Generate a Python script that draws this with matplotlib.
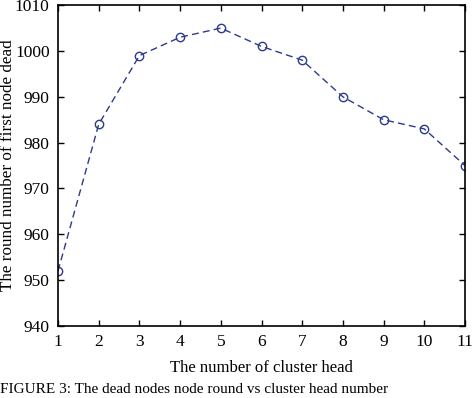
import matplotlib.pyplot as plt

cluster_heads = [1, 2, 3, 4, 5, 6, 7, 8, 9, 10, 11]
first_dead_round = [952, 984, 999, 1003, 1005, 1001, 998, 990, 985, 983, 975]
y_ticks = [940, 950, 960, 970, 980, 990, 1000, 1010]

plt.rcParams['font.family'] = ['Liberation Serif', 'DejaVu Serif']

fig = plt.figure(figsize=(4.74, 3.98), dpi=100)
ax = fig.add_axes([0.1224, 0.181, 0.8586, 0.806])

ax.plot(cluster_heads, first_dead_round, linestyle='--', color='#2e3a8c', linewidth=1.0,
        marker='o', markersize=6, markerfacecolor='none', markeredgecolor='#2e3a8c',
        markeredgewidth=1.0, dashes=(5, 3))

ax.set_xlim(1, 11)
ax.set_ylim(940, 1010)
ax.set_xticks(cluster_heads)
ax.set_yticks(y_ticks)
ax.tick_params(direction='in', top=True, right=True, labelsize=12.5, length=4, width=1, pad=6)
for s in ax.spines.values():
    s.set_linewidth(1.2)

ax.set_xlabel("The number of cluster head", fontsize=12, labelpad=7)
ax.set_ylabel("The round number of first node dead", fontsize=12.3, va='center')
ax.yaxis.set_label_coords(-0.122, 0.5)

# caption sits at the very bottom, as in the source page crop
fig.text(0.0, 0.004, "FIGURE 3: The dead nodes node round vs cluster head number",
         fontsize=11, va='bottom', ha='left')

fig.savefig("out.png", dpi=100)
